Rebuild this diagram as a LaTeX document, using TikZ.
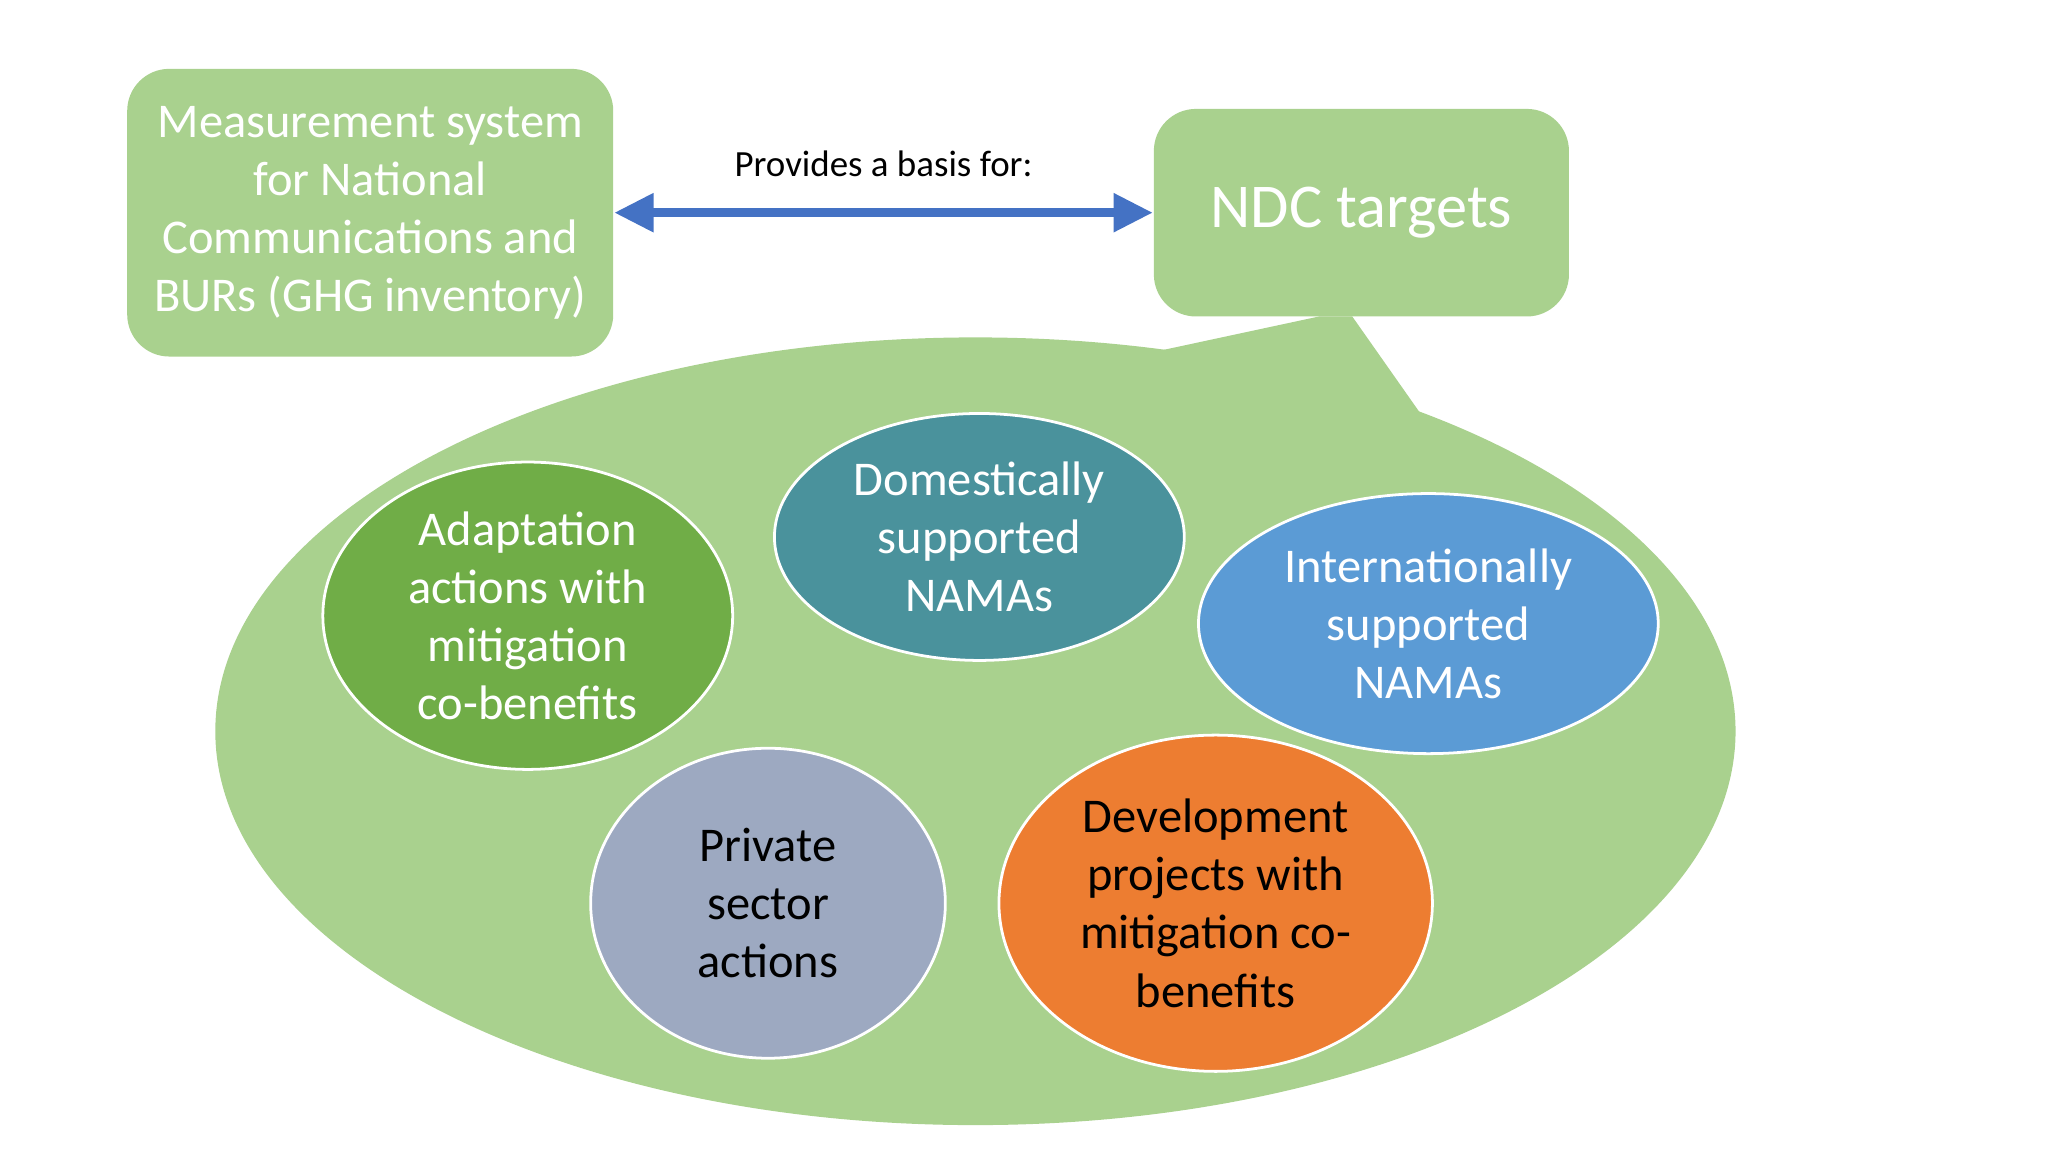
\documentclass[tikz,border=0pt]{standalone}
\usepackage{fontspec}
\setmainfont{Carlito}
\usetikzlibrary{arrows.meta,shapes.geometric}
\definecolor{lg}{HTML}{A9D18E}
\definecolor{gr}{HTML}{70AD47}
\definecolor{te}{HTML}{4A929C}
\definecolor{bl}{HTML}{5B9BD5}
\definecolor{gy}{HTML}{9DA9C1}
\definecolor{orn}{HTML}{ED7D31}
\definecolor{ab}{HTML}{4472C4}
\begin{document}
\begin{tikzpicture}[x=0.01cm,y=-0.01cm,
 box/.style={fill=lg,rounded corners=0.32cm,draw=none,text=white,align=center},
 el/.style={ellipse,draw=white,line width=0.6pt,align=center,inner sep=0pt,font=\fontsize{10.5}{12.6}\selectfont}]
\useasboundingbox (0,0) rectangle (1560,878);
\fill[lg] (743,557) ellipse [x radius=579, y radius=300];
\fill[lg] (870,270) -- (1005,241) -- (1030,241) -- (1082,315) -- (1000,300) -- cycle;
\node[box,minimum width=3.7cm,minimum height=2.19cm,font=\fontsize{10.5}{12.6}\selectfont] (ms) at (282,162) {Measurement system\\for National\\Communications and\\BURs (GHG inventory)};
\node[box,minimum width=3.16cm,minimum height=1.58cm,font=\fontsize{13.5}{16}\selectfont] (ndc) at (1037,162) {NDC targets};
\draw[ab,line width=2pt,{Triangle[length=0.3cm,width=0.28cm]}-{Triangle[length=0.3cm,width=0.28cm]}] (ms.east) -- node[above=0.12cm,black,font=\fontsize{8}{9.6}\selectfont] {Provides a basis for:} (ndc.east -| ndc.west);
\node[el,fill=gr,text=white,minimum width=3.12cm,minimum height=2.34cm] (ad) at (402,469) {Adaptation\\actions with\\mitigation\\co-benefits};
\node[el,fill=te,text=white,minimum width=3.12cm,minimum height=1.88cm] (dom) at (746,409) {Domestically\\supported\\NAMAs};
\node[el,fill=bl,text=white,minimum width=3.5cm,minimum height=1.98cm] (int) at (1088,475) {Internationally\\supported\\NAMAs};
\node[el,fill=gy,text=black,minimum width=2.7cm,minimum height=2.36cm] (pr) at (585,688) {Private\\sector\\actions};
\node[el,fill=orn,text=black,minimum width=3.3cm,minimum height=2.56cm] (dev) at (926,688) {Development\\projects with\\mitigation co-\\benefits};
\end{tikzpicture}
\end{document}
